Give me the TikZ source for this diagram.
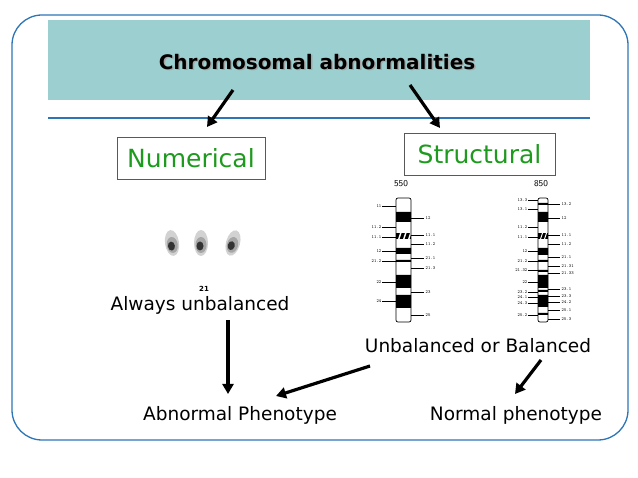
\documentclass[tikz,border=0pt]{standalone}
\usepackage{fontspec}
\setmainfont{DejaVu Sans}
\usetikzlibrary{patterns,arrows.meta}
\definecolor{frameblue}{HTML}{2E75B6}
\definecolor{band}{HTML}{9CCFCF}
\definecolor{grn}{HTML}{1E9A1E}
\begin{document}
\begin{tikzpicture}[x=1pt,y=-1pt,
  arr/.style={line width=3.2pt,-{Triangle[length=10pt,width=11pt]}},
  box/.style={draw=gray!70!black,line width=0.6pt,minimum height=42pt,text=grn,font=\fontsize{25}{28}\selectfont},
  lbl/.style={font=\fontsize{18.5}{20}\selectfont},
  tiny/.style={font=\fontsize{4.5}{4.5}\selectfont\ttfamily,inner sep=0.5pt},
  tk/.style={line width=0.4pt}]
\useasboundingbox (0,0) rectangle (638,478);
\fill[white] (0,0) rectangle (638,478);
\draw[frameblue,line width=1.3pt,rounded corners=30pt] (12,15) rectangle (628,440);
\fill[band] (48,20) rectangle (590,100);
\draw[frameblue,line width=2pt] (48,118) -- (590,118);
\node[text=gray!70,font=\bfseries\fontsize{20}{22}\selectfont] at (318.5,63.5) {Chromosomal abnormalities};
\node (title) [font=\bfseries\fontsize{20}{22}\selectfont] at (317,62) {Chromosomal abnormalities};
\node (num) [box,minimum width=148pt] at (191,158) {Numerical};
\node (str) [box,minimum width=151pt] at (479.5,154) {Structural};
\coordinate (t1) at (233,90); \coordinate (t2) at (410,85);
\draw[arr] (t1) -- (207,127);
\draw[arr] (t2) -- (440,128);
% blobs
\foreach \x/\r in {172/8,201/0,233/-15}{
  \fill[gray!35,rotate around={\r:(\x,243)}] (\x,243) ellipse (7pt and 13pt);
  \fill[gray!70,rotate around={\r:(\x,243)}] (\x,245) ellipse (5.5pt and 8pt);
  \fill[black!80,rotate around={\r:(\x,243)}] (\x-1,246) ellipse (3.5pt and 4.5pt);
}
\node (n21) [font=\bfseries\fontsize{7}{7}\selectfont] at (204,289) {21};
\node (au) [lbl] at (200,305) {Always unbalanced};
\node (ub) [lbl] at (478,346) {Unbalanced or Balanced};
\node (ab) [lbl] at (240,415) {Abnormal Phenotype};
\node (np) [lbl] at (516,415) {Normal phenotype};
\draw[arr] (228,320) -- (228,394);
\coordinate (u1) at (370,366); \coordinate (u2) at (541,360);
\draw[arr] (u1) -- (276,396);
\draw[arr] (u2) -- (515,394);
% ideogram 550
\node (c550) [font=\fontsize{9}{9}\selectfont\sffamily] at (401,184) {550};
\fill foreach \a/\b in {212/222,248/254,260/262,275/288,295/308} {(396,\a) rectangle (411,\b)};
\fill (396,233) rectangle (411,239);
\foreach \xx in {398,403,408}{\fill[white] (\xx,239) -- (\xx+2,233) -- (\xx+3.5,233) -- (\xx+1.5,239) -- cycle;}
\draw[line width=0.7pt,rounded corners=2pt] (396,198) rectangle (411,322);
\foreach \y/\t in {206/11,227/11.2,237/11.1,251/12,261/21.2,282/22,301/24}{
  \draw[tk] (382,\y) -- (396,\y); \node[tiny,anchor=east] at (382,\y) {\t};}
\foreach \y/\t in {218/12,235/11.1,244/11.2,258/21.1,268/21.3,292/23,315/25}{
  \draw[tk] (411,\y) -- (424,\y); \node[tiny,anchor=west] at (425,\y) {\t};}
% ideogram 850
\node (c850) [font=\fontsize{9}{9}\selectfont\sffamily] at (541,184) {850};
\fill foreach \a/\b in {203/205,212/222,248/255,260/262,270/272,275/288,290/292,295/307,313/315} {(538,\a) rectangle (548,\b)};
\fill (538,233) rectangle (548,239);
\foreach \xx in {540,544}{\fill[white] (\xx,239) -- (\xx+2,233) -- (\xx+3,233) -- (\xx+1,239) -- cycle;}
\draw[line width=0.7pt,rounded corners=2pt] (538,198) rectangle (548,322);
\foreach \y/\t in {200/13.3,209/13.1,227/11.2,237/11.1,251/12,261/21.2,270/21.32,282/22,292/23.2,297/24.1,303/24.3,315/25.2}{
  \draw[tk] (528,\y) -- (538,\y); \node[tiny,anchor=east] at (528,\y) {\t};}
\foreach \y/\t in {204/13.2,218/12,235/11.1,244/11.2,257/21.1,266/21.31,273/21.33,289/23.1,296/23.3,302/24.2,310/25.1,319/25.3}{
  \draw[tk] (548,\y) -- (560,\y); \node[tiny,anchor=west] at (561,\y) {\t};}
\end{tikzpicture}
\end{document}
